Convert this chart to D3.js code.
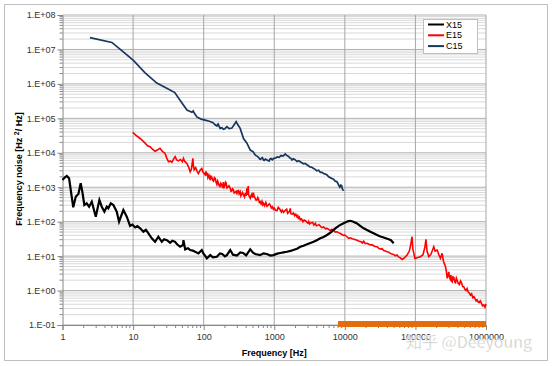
<!doctype html>
<html lang="en">
<head>
<meta charset="utf-8">
<title>Frequency noise</title>
<script src="https://cdn.jsdelivr.net/npm/d3@7"></script>
<style>
  body { margin: 0; background: #fff; }
  svg { display: block; }
  text { font-family: "Liberation Sans", Arial, sans-serif; }
</style>
</head>
<body>
<svg width="554" height="366"></svg>
<script>
// values: [frequency Hz, noise Hz^2/Hz]
var seriesNames = ["X15", "E15", "C15"];
var seriesColors = ["#000000", "#ff0000", "#17375e"];

var x15 = [[1.0,1620],[1.07,1900],[1.15,2110],[1.24,1810],[1.35,530],[1.42,261],[1.54,530],[1.68,635],[1.81,1300],[1.91,740],[2.04,304],[2.2,341],[2.38,272],[2.6,379],[2.96,139],[3.33,425],[3.6,272],[3.92,195],[4.24,272],[4.46,244],[4.83,341],[5.26,304],[5.87,195],[6.33,100],[7.28,218],[8.14,139],[9.06,75],[9.8,82],[10.7,68],[11.5,74],[12.6,64],[14.0,51],[15.2,58],[16.5,46],[18.4,33],[20.5,26],[22.8,36.5],[25.5,26],[27.5,31],[30.1,29],[33.5,24.5],[36,28],[39.4,26],[42,22],[46.4,18.7],[51,21],[51.7,29],[54.7,15.7],[60,17],[64.4,15],[70,14.5],[75.7,13.4],[84.4,12],[94,15],[99,12],[111,8.6],[124,10.7],[135,9.2],[154,9.6],[170,12],[183,11.5],[200,9.8],[213,10.7],[238,15],[260,11],[296,10.4],[330,12.8],[363,12.3],[400,10.5],[457,15.7],[500,12.6],[537,11.5],[632,10.7],[700,12],[787,11.5],[880,10.4],[977,10.7],[1100,11.8],[1217,12.3],[1350,12.8],[1514,13.4],[1700,14.2],[1860,15],[2100,16.4],[2340,18.7],[2600,20],[2910,22],[3250,24],[3610,26],[4000,29],[4490,33],[5000,36],[5590,41],[6400,50],[7330,64],[8400,78],[9610,90],[11000,102],[11970,106],[13200,100],[14900,89],[16500,76],[18500,64],[20600,57],[23000,51],[25500,46],[28600,41],[32000,37],[35500,34.6],[38000,33],[41800,30.7],[45000,29],[49200,23.5]];

var e15 = [[9.9,3.9e4],[11,3.2e4],[12.6,2.6e4],[13.5,2.3e4],[14.8,1.9e4],[16,1.6e4],[17.4,1.5e4],[19,1.25e4],[20.5,1.1e4],[22,1.2e4],[24,1.35e4],[26,1.1e4],[28.4,9.6e3],[30,7e3],[31.7,5.5e3],[33.5,5.8e3],[35.4,5.3e3],[37.5,6.5e3],[39.4,7.7e3],[41.5,6.2e3],[43.9,5.8e3],[47,6.4e3],[50,5.5e3],[51.7,6.9e3],[54,5.6e3],[57.8,4.9e3],[61,3.9e3],[64.4,2.8e3],[67,3.3e3],[70.3,6.9e3],[71.5,4.2e3],[73.3,3.2e3],[77,3.7e3],[81,2.9e3],[84,2.5e3],[89,3.1e3],[94,3.5e3],[98,2.7e3],
  [105,2.3e3],[108,2.9e3],[110,2.2e3],[113,2.6e3],[115,1.9e3],[119,2.2e3],[124,1.6e3],[127,2.1e3],[130,2.0e3],[134,1.6e3],[138,1.5e3],[142,1.9e3],[146,1.8e3],[150,1.4e3],[154,1.2e3],[158,1.5e3],[162,1.3e3],[166,1.1e3],[170,1.05e3],[175,1.3e3],[181,1.16e3],[185,950],[190,1.4e3],[195,1.0e3],[200,1.1e3],[204,1.4e3],[208,1.33e3],[214,950],[220,1.0e3],[228,1.1e3],[238,930],[244,760],[250,780],[256,900],[263,860],[270,680],[280,700],[288,760],[296,665],[303,780],[310,800],[318,640],[329,740],[337,560],[345,620],[355,700],[367,594],[378,520],[390,680],[400,560],[410,930],[416,600],[428,1080],[434,600],[440,560],[448,520],[457,476],[468,560],[480,620],[492,500],[505,700],[520,540],[537,476],[552,420],[569,425],[585,500],[600,450],[615,360],[632,380],[650,330],[670,390],[688,310],[705,341],[730,290],[760,360],[790,280],[820,300],[850,330],[877,304],[910,250],[940,270],[970,230],
  [1000,250],[1040,215],[1092,211],[1140,260],[1200,230],[1260,190],[1300,215],[1355,187],[1420,210],[1500,230],[1550,175],[1600,190],[1650,200],[1687,244],[1720,170],[1800,165],[1870,180],[1950,150],[2020,165],[2099,139],[2150,150],[2200,125],[2270,135],[2340,112],[2440,120],[2550,100],[2650,112],[2800,105],[2900,96],[3000,90],[3080,102],[3170,86],[3300,92],[3500,95],[3650,80],[3820,90],[3950,76],[4100,78],[4300,82],[4490,75],[4700,67],[5000,70],[5300,63],[5590,64],[5900,60],[6200,55],[6500,60],[6900,58],[7300,50],[7750,51],[8100,48],[8500,46],[9000,43],[9500,40],[10000,41],
  [10700,36.5],[11300,33],[12000,34],[12700,32],[13500,31],[14200,30],[14900,29],[16000,27],[17000,26],[17800,24],[18500,27],[19500,23],[20600,23.5],[22000,22],[23000,21],[24200,21.5],[25500,20],[27000,19],[28600,18.7],[30000,17],[32000,16],[33700,16.5],[35500,14.5],[37500,14],[39700,13.4],[42000,13],[44000,12],[46500,11.5],[49000,11.2],[52000,10.2],[55000,10.7],[57500,9.5],[60000,9.2],[65000,8.0],[68200,8.6],[72000,9.5],[76200,10.7],[82000,14],[86000,22],[89700,36.5],[92000,16],[98400,8.6],[105000,9.0],[118000,9.6],[128000,11],[136000,18],[141000,30.7],[146000,14],[155000,9.6],[165000,11],[175000,15],[182000,18.7],[190000,14],[203000,15],[215000,11],[226000,8.6],[239000,12],[250000,7],[267000,4.9],[275000,3.5],[282000,2.26],[297000,3.5],
  [303000,2.5],[310000,2.2],[318000,2.8],[325000,1.9],[332000,1.8],[340000,2.5],[350000,2.4],[360000,1.8],[370000,1.7],[380000,2.3],[390000,2.0],[405000,1.6],[420000,1.5],[435000,1.9],[450000,1.7],[467000,1.3],[484000,1.29],[500000,1.1],[520000,1.0],[540000,1.15],[560000,0.9],[580000,0.85],[603000,0.74],[625000,0.8],[650000,0.62],[675000,0.66],[700000,0.58],[725000,0.5],[750000,0.53],[775000,0.46],[800000,0.45],[830000,0.5],[860000,0.43],[895000,0.36],[931000,0.38],[965000,0.33],[1000000,0.41]];

var c15 = [[2.45,2.2e7],[5.0,1.6e7],[7.2,8.6e6],[10.1,4.8e6],[14.8,2.1e6],[21.7,1.06e6],[30,7.5e5],[39,5.6e5],[46,3.4e5],[58,1.75e5],[68,1.5e5],[71,1.65e5],[74,1.4e5],[80,1.1e5],[92,9.5e4],[105,8.9e4],[120,8.2e4],[136,7.5e4],[145,6.5e4],[154,6.0e4],[160,6.8e4],[171,5.1e4],[182,5.3e4],[191,4.8e4],[200,5.0e4],[213,5.7e4],[230,5.0e4],[251,5.2e4],[270,6.5e4],[289,8.0e4],[305,6.5e4],[329,5.1e4],[367,2.6e4],[410,1.9e4],[457,1.2e4],
  [504,1.07e4],[520,9.5e3],[540,8.5e3],[570,8.0e3],[599,7.4e3],[620,6.6e3],[640,6.5e3],[660,7.0e3],[680,7.2e3],[700,6.2e3],[720,6.0e3],[750,6.6e3],[788,6.2e3],[820,5.9e3],[850,5.8e3],[875,6.6e3],[900,6.8e3],[940,6.3e3],[977,6.9e3],[1040,7.0e3],[1100,7.6e3],[1170,7.4e3],[1250,8.3e3],[1330,8.0e3],[1432,9.2e3],[1490,8.5e3],[1550,8.0e3],[1600,7.8e3],[1650,7.2e3],[1710,7.0e3],[1783,6.2e3],[1860,6.7e3],[1950,6.4e3],[2020,6.0e3],[2100,5.6e3],[2220,5.9e3],[2338,5.5e3],[2460,5.1e3],[2600,4.8e3],[2750,4.9e3],[2900,4.5e3],[3050,4.2e3],[3200,3.9e3],[3400,3.8e3],[3610,3.5e3],[3800,3.3e3],[4000,3.0e3],[4250,3.1e3],[4500,2.7e3],[4750,2.7e3],[5000,2.5e3],[5300,2.4e3],[5590,2.26e3],[5900,2.0e3],[6200,1.9e3],[6550,1.8e3],[6900,1.7e3],[7300,1.5e3],[7750,1.44e3],[8100,1.2e3],[8500,1.0e3],[8800,1.15e3],[9000,1.1e3],[9300,850],[9610,790]];

var bandRange = [8000, 1000000];   // orange bar along the bottom
var xTicks = [1, 10, 100, 1000, 10000, 100000, 1000000];
var yTicks = [1e-1, 1e0, 1e1, 1e2, 1e3, 1e4, 1e5, 1e6, 1e7, 1e8];
var yTickLabels = ["1.E-01","1.E+00","1.E+01","1.E+02","1.E+03","1.E+04","1.E+05","1.E+06","1.E+07","1.E+08"];

var svg = d3.select("svg");
var plotL = 62.5, plotR = 486, plotT = 15, plotB = 325;

var x = d3.scaleLog().domain([1, 1e6]).range([plotL, plotR]);
var y = d3.scaleLog().domain([0.1, 1e8]).range([plotB, plotT]);

// chart border
svg.append("rect")
    .attr("x", 4.5).attr("y", 4.5)
    .attr("width", 543).attr("height", 356)
    .attr("fill", "#fff")
    .attr("stroke", "#bfbfbf");

// minor values inside each decade
function minors(lo, hi) {
    var out = [];
    for (var p = Math.round(Math.log10(lo)); p < Math.round(Math.log10(hi)); p++) {
        for (var k = 2; k <= 9; k++) out.push(k * Math.pow(10, p));
    }
    return out;
}
var yMinor = minors(0.1, 1e8);
var xMinor = minors(1, 1e6);

var grid = svg.append("g");
grid.selectAll(".hminor")
    .data(yMinor)
    .enter().append("line")
    .attr("x1", plotL).attr("x2", plotR)
    .attr("y1", function (d) { return y(d); })
    .attr("y2", function (d) { return y(d); })
    .attr("stroke", "#d9d9d9").attr("stroke-width", 1);

grid.selectAll(".hmajor")
    .data(yTicks)
    .enter().append("line")
    .attr("x1", plotL).attr("x2", plotR)
    .attr("y1", function (d) { return y(d); })
    .attr("y2", function (d) { return y(d); })
    .attr("stroke", "#b0b0b0").attr("stroke-width", 1);

grid.selectAll(".vmajor")
    .data(xTicks.slice(1))
    .enter().append("line")
    .attr("y1", plotT).attr("y2", plotB)
    .attr("x1", function (d) { return x(d); })
    .attr("x2", function (d) { return x(d); })
    .attr("stroke", "#a6a6a6").attr("stroke-width", 1);

// axes
var axisColor = "#868686";
var yAxis = svg.append("g")
    .attr("transform", "translate(" + plotL + ",0)")
    .call(d3.axisLeft(y).tickValues(yTicks).tickSize(5)
        .tickFormat(function (d, i) { return yTickLabels[i]; }));
yAxis.selectAll(".tick text").attr("font-size", 9).attr("fill", "#333").attr("x", -7)
    .style("font-family", "Liberation Sans, Arial, sans-serif");
yAxis.append("g").selectAll("line")
    .data(yMinor).enter().append("line")
    .attr("x1", -3).attr("x2", 0)
    .attr("y1", function (d) { return y(d); })
    .attr("y2", function (d) { return y(d); });

var xAxis = svg.append("g")
    .attr("transform", "translate(0," + plotB + ")")
    .call(d3.axisBottom(x).tickValues(xTicks).tickSize(5)
        .tickFormat(function (d) { return String(d); }));
xAxis.selectAll(".tick text").attr("font-size", 9).attr("fill", "#333").attr("y", 9)
    .style("font-family", "Liberation Sans, Arial, sans-serif");
xAxis.append("g").selectAll("line")
    .data(xMinor).enter().append("line")
    .attr("x1", function (d) { return x(d); })
    .attr("x2", function (d) { return x(d); })
    .attr("y1", 0).attr("y2", 3);

svg.selectAll(".domain, .tick line").attr("stroke", axisColor);
yAxis.selectAll("g > line").attr("stroke", axisColor);
xAxis.selectAll("g > line").attr("stroke", axisColor);

// curves
var line = d3.line()
    .x(function (d) { return x(d[0]); })
    .y(function (d) { return y(d[1]); });

var plot = svg.append("g");
plot.append("path").datum(c15)
    .attr("d", line).attr("fill", "none")
    .attr("stroke", seriesColors[2]).attr("stroke-width", 1.7);
plot.append("path").datum(e15)
    .attr("d", line).attr("fill", "none")
    .attr("stroke", seriesColors[1]).attr("stroke-width", 1.6);
plot.append("path").datum(x15)
    .attr("d", line).attr("fill", "none")
    .attr("stroke", seriesColors[0]).attr("stroke-width", 2.2);

// orange band
svg.append("line")
    .attr("x1", x(bandRange[0])).attr("x2", x(bandRange[1]))
    .attr("y1", y(0.1) - 1).attr("y2", y(0.1) - 1)
    .attr("stroke", "#e46c0a").attr("stroke-width", 6);

// axis titles
svg.append("text")
    .attr("x", (plotL + plotR) / 2).attr("y", 356)
    .attr("text-anchor", "middle")
    .attr("font-size", 9).attr("font-weight", "bold")
    .text("Frequency [Hz]");

var yt = svg.append("text")
    .attr("transform", "translate(22,169) rotate(-90)")
    .attr("text-anchor", "middle")
    .attr("font-size", 9).attr("font-weight", "bold");
yt.append("tspan").text("Frequency noise [Hz ");
yt.append("tspan").attr("dy", -3).attr("font-size", 7).text("2");
yt.append("tspan").attr("dy", 3).text("/ Hz]");

// legend
var legend = svg.append("g").attr("transform", "translate(423,19)");
legend.append("rect")
    .attr("x", 0.5).attr("y", 0.5).attr("width", 54).attr("height", 34)
    .attr("fill", "#fff").attr("stroke", "#bfbfbf");
var item = legend.selectAll(".item")
    .data(seriesNames)
    .enter().append("g")
    .attr("transform", function (d, i) { return "translate(0," + (5.5 + i * 10.8) + ")"; });
item.append("line")
    .attr("x1", 5).attr("x2", 21)
    .attr("stroke", function (d, i) { return seriesColors[i]; })
    .attr("stroke-width", 2);
item.append("text")
    .attr("x", 23).attr("dy", "0.35em")
    .attr("font-size", 9)
    .text(function (d) { return d; });

// watermark (sits over the last tick labels, as in the source image)
svg.append("text")
    .attr("x", 406).attr("y", 348)
    .attr("font-size", 16)
    .attr("fill", "#c4c4c4")
    .attr("stroke", "#fff").attr("stroke-width", 0.4)
    .style("font-family", "Noto Sans CJK SC, sans-serif")
    .text("知乎 @Deeyoung");
</script>
</body>
</html>
